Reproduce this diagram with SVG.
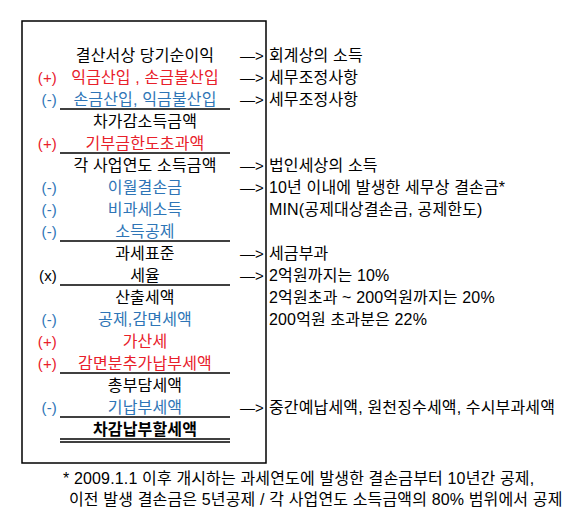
<svg xmlns="http://www.w3.org/2000/svg" width="585" height="525" viewBox="0 0 585 525">
<style>
text{font-family:"Liberation Sans","Noto Sans CJK KR",sans-serif;font-size:16px;letter-spacing:0.15px;fill:#000}
.c{text-anchor:middle}
.s{text-anchor:end;font-size:15px}
.a{font-size:15px;letter-spacing:0}
.r{fill:#E8202A}
.b{fill:#2E75B6}
.ln{stroke:#000;stroke-width:1.3;fill:none}
</style>
<rect width="585" height="525" fill="#fff"/>
<rect id="frame" x="22" y="21" width="244" height="442" fill="none" stroke="#000" stroke-width="1.5"/>
<g id="rules">
<line class="ln" x1="60" y1="109" x2="230" y2="109"/>
<line class="ln" x1="60" y1="153" x2="230" y2="153"/>
<line class="ln" x1="60" y1="241" x2="230" y2="241"/>
<line class="ln" x1="60" y1="285" x2="230" y2="285"/>
<line class="ln" x1="60" y1="373" x2="230" y2="373"/>
<line class="ln" x1="60" y1="417" x2="230" y2="417"/>
<line class="ln" x1="60" y1="439" x2="230" y2="439"/>
<line class="ln" x1="60" y1="442" x2="230" y2="442"/>
</g>
<g id="n1"><text class="c" x="145" y="61">결산서상 당기순이익</text></g>
<g id="n2"><text class="s r" x="57" y="83">(+)</text><text class="c r" x="145" y="83">익금산입 , 손금불산입</text></g>
<g id="n3"><text class="s b" x="57" y="105">(-)</text><text class="c b" x="145" y="105">손금산입, 익금불산입</text></g>
<g id="n4"><text class="c" x="145" y="127">차가감소득금액</text></g>
<g id="n5"><text class="s r" x="57" y="149">(+)</text><text class="c r" x="145" y="149">기부금한도초과액</text></g>
<g id="n6"><text class="c" x="145" y="171">각 사업연도 소득금액</text></g>
<g id="n7"><text class="s b" x="57" y="193">(-)</text><text class="c b" x="145" y="193">이월결손금</text></g>
<g id="n8"><text class="s b" x="57" y="215">(-)</text><text class="c b" x="145" y="215">비과세소득</text></g>
<g id="n9"><text class="s b" x="57" y="237">(-)</text><text class="c b" x="145" y="237">소득공제</text></g>
<g id="n10"><text class="c" x="145" y="259">과세표준</text></g>
<g id="n11"><text class="s" x="57" y="281">(x)</text><text class="c" x="145" y="281">세율</text></g>
<g id="n12"><text class="c" x="145" y="303">산출세액</text></g>
<g id="n13"><text class="s b" x="57" y="325">(-)</text><text class="c b" x="145" y="325">공제,감면세액</text></g>
<g id="n14"><text class="s r" x="57" y="347">(+)</text><text class="c r" x="145" y="347">가산세</text></g>
<g id="n15"><text class="s r" x="57" y="369">(+)</text><text class="c r" x="145" y="369">감면분추가납부세액</text></g>
<g id="n16"><text class="c" x="145" y="391">총부담세액</text></g>
<g id="n17"><text class="s b" x="57" y="413">(-)</text><text class="c b" x="145" y="413">기납부세액</text></g>
<g id="n18"><text class="c" x="145" y="435" font-weight="bold">차감납부할세액</text></g>
<g id="connectors">
<text class="a" x="240" y="61">—&gt;</text>
<text class="a" x="240" y="83">—&gt;</text>
<text class="a" x="240" y="105">—&gt;</text>
<text class="a" x="240" y="171">—&gt;</text>
<text class="a" x="240" y="193">—&gt;</text>
<text class="a" x="240" y="259">—&gt;</text>
<text class="a" x="240" y="281">—&gt;</text>
<text class="a" x="240" y="413">—&gt;</text>
</g>
<g id="notes">
<text x="269" y="61">회계상의 소득</text>
<text x="269" y="83">세무조정사항</text>
<text x="269" y="105">세무조정사항</text>
<text x="269" y="171">법인세상의 소득</text>
<text x="269" y="193">10년 이내에 발생한 세무상 결손금*</text>
<text x="269" y="215">MIN(공제대상결손금, 공제한도)</text>
<text x="269" y="259">세금부과</text>
<text x="269" y="281">2억원까지는 10%</text>
<text x="269" y="303">2억원초과 ~ 200억원까지는 20%</text>
<text x="269" y="325">200억원 초과분은 22%</text>
<text x="269" y="413">중간예납세액, 원천징수세액, 수시부과세액</text>
</g>
<g id="footnote">
<text x="63" y="484">* 2009.1.1 이후 개시하는 과세연도에 발생한 결손금부터 10년간 공제,</text>
<text x="69" y="505">이전 발생 결손금은 5년공제 / 각 사업연도 소득금액의 80% 범위에서 공제</text>
</g>
</svg>
